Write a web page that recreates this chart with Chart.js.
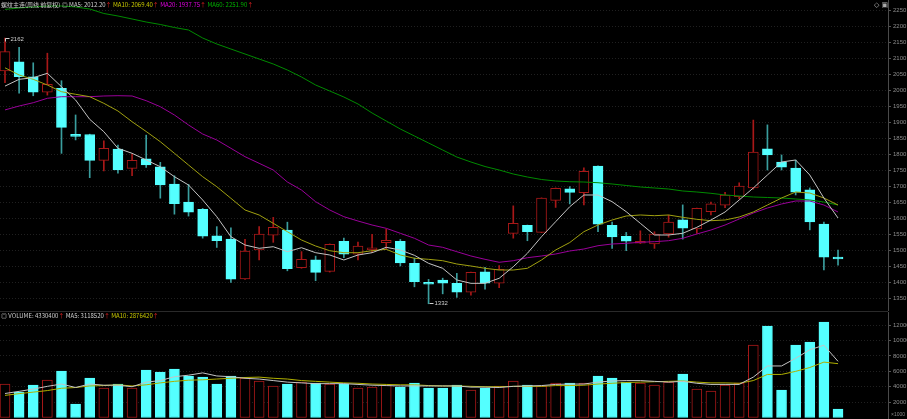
<!DOCTYPE html>
<html><head><meta charset="utf-8">
<script src="https://cdn.jsdelivr.net/npm/chart.js@4.4.0/dist/chart.umd.min.js"></script>
<style>
html,body{margin:0;padding:0;background:#000;width:907px;height:419px;overflow:hidden}
canvas{position:absolute;left:0}
#p{top:0}
#v{top:312px}
#sep{position:absolute;left:0;top:311px;width:888px;height:1px;background:#2a2a2a}
.hd{position:absolute;left:1px;font-size:6px;line-height:8px;color:#cfcfcf;white-space:nowrap;font-family:"Noto Sans CJK SC","Liberation Sans",sans-serif}
.r{color:#e02020}.y{color:#c8c800}.m{color:#e000e0}.g{color:#00b000}.w{color:#d0d0d0}
#icons{position:absolute;left:874px;top:1px;font-size:7px;color:#aaa;font-family:"DejaVu Sans",sans-serif}
#unit{position:absolute;left:891px;top:411px;font-size:5px;color:#888;font-family:"Liberation Sans",sans-serif}
</style></head><body>
<canvas id="p" width="907" height="311"></canvas>
<div id="sep"></div>
<canvas id="v" width="907" height="107"></canvas>
<div class="hd" style="top:1px">螺纹主连(周线 前复权) ◎ <span class="w">MA5: 2012.20</span><span class="r">↑</span> <span class="y">MA10: 2069.40</span><span class="r">↑</span> <span class="m">MA20: 1937.75</span><span class="r">↑</span> <span class="g">MA60: 2251.90</span><span class="r">↑</span></div>
<div class="hd" style="top:312px">◎ VOLUME: 4330400<span class="r">↑</span> <span class="w">MA5: 3118520</span><span class="r">↑</span> <span class="y">MA10: 2876420</span><span class="r">↑</span></div>
<div id="icons">◇ ▣</div>
<div id="unit">×1000</div>
<script>
// ---- data ----
const opens  = [2060,2088,2041,1993,2005,1861,1861,1780,1815,1755,1785,1760,1706,1650,1627,1544,1534,1410,1500,1546,1562,1445,1469,1433,1527,1487,1500,1523,1527,1458,1396,1406,1396,1368,1432,1396,1552,1577,1555,1655,1691,1679,1762,1577,1543,1521,1519,1550,1594,1566,1620,1640,1667,1694,1816,1775,1756,1688,1581,1475];
const closes = [2120,2042,1993,2018,1883,1855,1780,1818,1750,1780,1766,1703,1645,1618,1543,1529,1409,1497,1550,1571,1442,1471,1430,1518,1487,1512,1507,1530,1460,1401,1393,1396,1368,1430,1396,1440,1583,1557,1662,1693,1680,1746,1581,1541,1528,1527,1550,1587,1568,1630,1644,1672,1700,1806,1797,1759,1681,1588,1478,1472];
const highs  = [2162,2133,2085,2115,2029,1922,1862,1841,1828,1800,1859,1774,1732,1705,1630,1573,1569,1533,1573,1602,1587,1495,1481,1519,1537,1525,1549,1565,1533,1475,1408,1412,1427,1431,1446,1451,1638,1578,1663,1694,1698,1757,1763,1587,1555,1560,1557,1609,1641,1631,1650,1680,1710,1906,1891,1797,1781,1694,1587,1500];
const lows   = [2023,1990,1982,1984,1802,1844,1726,1747,1740,1732,1758,1662,1612,1606,1537,1508,1399,1408,1469,1524,1435,1443,1404,1431,1476,1469,1492,1504,1450,1385,1332,1363,1352,1359,1378,1382,1537,1529,1554,1633,1644,1641,1557,1505,1498,1520,1505,1540,1534,1552,1610,1632,1660,1690,1750,1750,1672,1563,1438,1453];
const ma5  = [2012.2,2033.4,2038.4,2052.2,2010.3,1968.8,1908.4,1869.7,1817.8,1802.2,1781.3,1760.3,1729.1,1703.1,1656.3,1604.1,1541.6,1515.6,1505.3,1510.3,1494.7,1507.2,1491.6,1484.4,1468.8,1484.4,1491.6,1508.4,1500.0,1483.4,1458.4,1442.8,1406.3,1395.9,1395.9,1411.6,1447.8,1489.7,1541.6,1588.4,1635.3,1671.9,1671.9,1651.0,1619.7,1583.4,1546.9,1546.9,1552.2,1570.9,1593.8,1618.8,1656.3,1693.8,1734.4,1775.0,1781.3,1734.4,1662.5,1600.0];
const ma10 = [2069.4,2046.9,2033.4,2015.6,1994.7,1986.6,1979.1,1958.4,1934.4,1900.9,1870.3,1838.4,1802.2,1765.6,1729.1,1697.8,1661.6,1625.0,1609.4,1583.4,1557.2,1531.3,1512.5,1497.8,1491.6,1491.6,1497.8,1502.2,1484.4,1474.1,1470.9,1466.6,1456.3,1450.0,1442.8,1437.5,1437.5,1442.8,1468.8,1500.0,1523.4,1557.2,1578.1,1593.8,1606.3,1609.4,1607.2,1609.4,1602.2,1595.9,1591.6,1593.8,1603.1,1618.8,1640.6,1662.5,1681.3,1678.1,1662.5,1640.6];
const ma20 = [1937.75,1950.0,1960.3,1974.1,1979.1,1979.1,1979.1,1981.3,1982.2,1981.3,1966.6,1947.8,1921.9,1890.6,1862.5,1843.8,1817.8,1791.6,1771.0,1750.0,1712.5,1687.5,1650.9,1625.0,1604.1,1590.6,1578.1,1567.8,1552.2,1536.6,1515.6,1508.4,1494.7,1481.3,1470.9,1461.6,1466.6,1475.9,1481.3,1487.5,1496.9,1503.1,1513.4,1518.8,1520.9,1524.1,1526.0,1529.1,1536.6,1550.0,1562.5,1578.1,1596.9,1615.6,1631.3,1643.8,1653.1,1653.1,1640.6,1618.8];
const ma60 = [2251.9,2256.3,2259.4,2262.5,2262.5,2259.4,2253.1,2239.1,2231.3,2221.9,2212.5,2204.7,2195.3,2187.5,2162.5,2143.8,2128.1,2112.5,2096.9,2081.3,2062.5,2040.6,2015.6,1996.9,1978.1,1956.3,1928.1,1903.1,1878.1,1856.3,1834.4,1812.5,1790.6,1775.0,1760.9,1750.0,1737.5,1728.1,1720.3,1715.6,1713.4,1712.5,1710.3,1706.3,1701.6,1696.9,1693.8,1690.6,1684.4,1681.3,1677.2,1671.9,1668.8,1665.6,1664.1,1662.5,1659.4,1656.3,1650.0,1640.6];
const volumes = [4330,3315,4225,4875,6045,1755,5135,3835,4355,3835,6175,5915,6305,5395,5265,4355,5395,5135,4745,4095,4355,4615,4485,4355,4355,3835,3965,4225,3965,4485,3835,3835,4225,3575,3835,4095,4745,4225,4095,4485,4485,4485,5395,5135,4615,4485,4225,4615,5655,3705,3445,4225,4485,9425,11895,3575,9425,9815,12415,1105];
const volMa5  = [3118,3400,3700,4050,4350,3900,4350,4200,4200,4000,4600,4800,5300,5500,5800,5400,5300,5100,5000,4800,4600,4500,4400,4400,4400,4300,4200,4150,4100,4100,4100,4100,4100,3950,3950,3900,4050,4100,4150,4300,4350,4350,4600,4750,4800,4800,4700,4600,4700,4450,4300,4300,4300,5250,6700,6700,7700,8800,9400,7300];
const volMa10 = [2876,3100,3300,3500,3800,3900,4100,4150,4250,4100,4250,4500,4700,4850,4900,5000,5100,5200,5250,5100,5000,4800,4700,4600,4500,4450,4350,4300,4250,4250,4150,4100,4100,4050,4000,4000,4050,4050,4050,4150,4150,4200,4350,4450,4550,4600,4650,4700,4750,4600,4500,4500,4450,4800,5600,5600,6000,6500,7200,7000];
const priceTicks = [1350,1400,1450,1500,1550,1600,1650,1700,1750,1800,1850,1900,1950,2000,2050,2100,2150,2200,2250];
const volTicks = [2000,4000,6000,8000,10000,12000];

// ---- styling ----
const RED='#a81818', CYAN='#54ffff', WICKC='#3a9e9e';
const isUp = i => closes[i] >= opens[i];
const xOpts = {type:'linear', display:false, offset:false, grid:{offset:false}, min:-0.354, max:62.54};
const fitAxis = s => { s.width = 19; s.paddingTop = 0; s.paddingBottom = 0; };
const yStyle = (ticks) => ({
  position:'right',
  afterBuildTicks: s => { s.ticks = ticks.map(v => ({value:v})); },
  afterFit: fitAxis,
  grid:{color:'rgba(70,70,70,0.45)', lineWidth:1, tickLength:3, tickColor:'#555'},
  border:{display:true, color:'#4a4a4a', dash:[1,2]},
  ticks:{color:'#8c8c8c', font:{size:6, family:'Liberation Sans'}, padding:2, autoSkip:false, callback:v => String(v)}
});
const lineDs = (arr, color) => ({type:'line', data:arr.map((v,i)=>({x:i,y:v})), borderColor:color, borderWidth:1, pointRadius:0, tension:0, order:1});

const hlPlugin = {
  id:'hl',
  afterDatasetsDraw(chart){
    const ctx = chart.ctx, xs = chart.scales.x, ys = chart.scales.y;
    let hi = 0, lo = 0;
    highs.forEach((h,i)=>{ if (h > highs[hi]) hi = i; });
    lows.forEach((l,i)=>{ if (l < lows[lo]) lo = i; });
    ctx.save();
    ctx.strokeStyle = '#cfcfcf'; ctx.fillStyle = '#cfcfcf'; ctx.lineWidth = 1;
    ctx.font = '6px "Liberation Sans"'; ctx.textBaseline = 'middle';
    let x = Math.round(xs.getPixelForValue(hi)) + 0.5, y = Math.round(ys.getPixelForValue(highs[hi])) + 0.5;
    ctx.beginPath(); ctx.moveTo(x, y + 3); ctx.lineTo(x, y); ctx.lineTo(x + 4, y); ctx.stroke();
    ctx.fillText(String(highs[hi]), x + 5, y + 1);
    x = Math.round(xs.getPixelForValue(lo)) + 0.5; y = Math.round(ys.getPixelForValue(lows[lo])) - 0.5;
    ctx.beginPath(); ctx.moveTo(x, y); ctx.lineTo(x + 4, y); ctx.stroke();
    ctx.fillText(String(lows[lo]), x + 5, y);
    ctx.restore();
  }
};

const common = {responsive:false, animation:false, events:[], layout:{padding:0},
  plugins:{legend:{display:false}, tooltip:{enabled:false}}};

new Chart(document.getElementById('p'), {
  type:'bar',
  data:{datasets:[
    {type:'bar', data:highs.map((h,i)=>({x:i,y:[lows[i],h]})), backgroundColor:highs.map((h,i)=>isUp(i)?RED:WICKC),
     borderWidth:0, barThickness:1, grouped:false, order:3},
    {type:'bar', data:opens.map((o,i)=>({x:i,y:[o,closes[i]]})), backgroundColor:opens.map((o,i)=>isUp(i)?'#000':CYAN),
     borderColor:opens.map((o,i)=>isUp(i)?RED:CYAN), borderWidth:1, borderSkipped:false, barThickness:10, minBarLength:2, grouped:false, order:2},
    lineDs(ma5,'#c4c4c4'), lineDs(ma10,'#a0a010'), lineDs(ma20,'#9a009a'), lineDs(ma60,'#008a00')
  ]},
  options:Object.assign({}, common, {scales:{x:xOpts, y:Object.assign({min:1309.4, max:2281.25}, yStyle(priceTicks))}}),
  plugins:[hlPlugin]
});

new Chart(document.getElementById('v'), {
  type:'bar',
  data:{datasets:[
    {type:'bar', data:volumes.map((v,i)=>({x:i,y:v})), backgroundColor:volumes.map((v,i)=>isUp(i)?'#000':CYAN),
     borderColor:volumes.map((v,i)=>isUp(i)?RED:CYAN), borderWidth:1, borderSkipped:false, barThickness:10, grouped:false, order:2},
    lineDs(volMa5,'#c4c4c4'), lineDs(volMa10,'#b0b000')
  ]},
  options:Object.assign({}, common, {scales:{x:xOpts, y:Object.assign({min:-195, max:13715}, yStyle(volTicks))}})
});
</script>
</body></html>
